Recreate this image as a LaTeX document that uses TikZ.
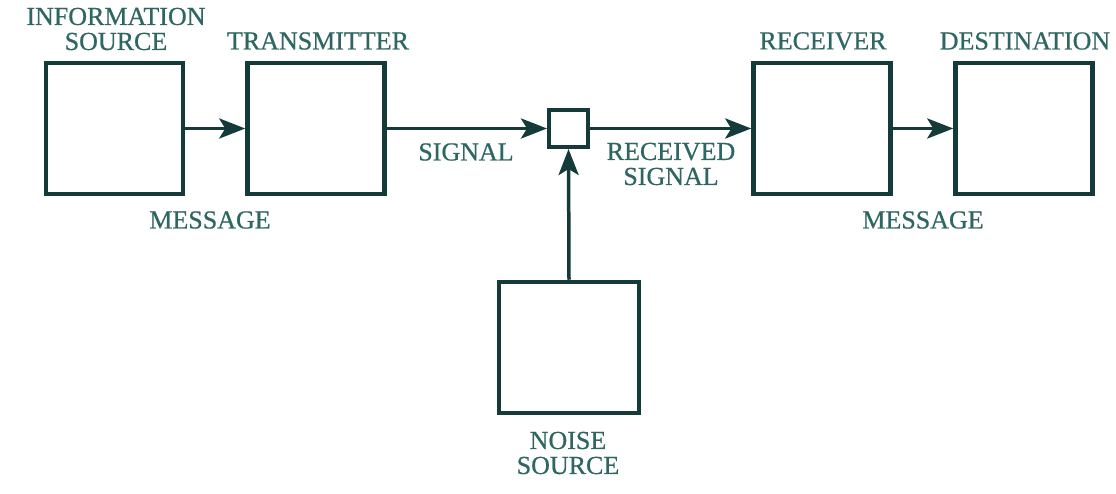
\documentclass[tikz,border=0pt]{standalone}
\usepackage{fontspec}
\setmainfont{Liberation Serif}
\newfontfamily\labelfont[FakeBold=0.6]{Liberation Serif}
\usepackage{tikz}
\usetikzlibrary{arrows.meta}
\definecolor{boxline}{HTML}{143A3A}
\definecolor{labeltext}{HTML}{2E6662}

\begin{document}
\begin{tikzpicture}[x=1pt,y=-1pt,
  block/.style={draw=boxline,line width=4.5pt,minimum width=137pt,minimum height=131pt,inner sep=0pt},
  joint/.style={draw=boxline,line width=4pt,minimum width=39pt,minimum height=37pt,inner sep=0pt},
  lbl/.style={text=labeltext,align=center,inner sep=0pt,font=\labelfont\fontsize{26}{25}\selectfont},
  flow/.style={draw=boxline,line width=3.5pt,-{Stealth[length=26pt,width=20pt,inset=6pt]}}]
  \useasboundingbox (0,0) rectangle (1116,494);
  % blocks
  \node[block] (src) at (114.5,128.5) {};
  \node[block] (tx) at (316,128.5) {};
  \node[joint] (mix) at (568.5,128.5) {};
  \node[block] (rx) at (822,128.5) {};
  \node[block] (dst) at (1024,128.5) {};
  \node[block,minimum width=140pt] (noise) at (569,347.5) {};
  % connectors
  \draw[flow] (src.east) -- (tx.west);
  \draw[flow] (tx.east) -- (mix.west);
  \draw[flow] (mix.east) -- (rx.west);
  \draw[flow] (rx.east) -- (dst.west);
  \draw[flow] (noise.north) -- (mix.south);
  % labels
  \node[lbl] (srcname) at (116,29) {INFORMATION\\SOURCE};
  \node[lbl] (txname) at (318,41) {TRANSMITTER};
  \node[lbl] (rxname) at (823,41) {RECEIVER};
  \node[lbl] (dstname) at (1025,41) {DESTINATION};
  \node[lbl] (msgleft) at (210,220) {MESSAGE};
  \node[lbl] (msgright) at (923,220) {MESSAGE};
  \node[lbl] (signal) at (466,152) {SIGNAL};
  \node[lbl] (rxsignal) at (671,164) {RECEIVED\\SIGNAL};
  \node[lbl] (noisename) at (568,453) {NOISE\\SOURCE};
\end{tikzpicture}
\end{document}
